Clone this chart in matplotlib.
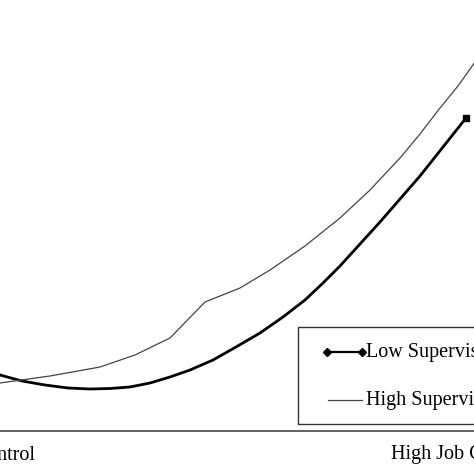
import matplotlib
matplotlib.use("Agg")
import matplotlib.pyplot as plt
from matplotlib.patches import Rectangle

plt.rcParams['font.family'] = ['Liberation Serif', 'DejaVu Serif']

# data read in picture coordinates (x right, y down)
low_x = [-20, 0, 22, 45, 68, 90, 110, 130, 150, 170, 190, 213, 236, 260, 283, 305, 323, 340, 360, 380, 400, 420, 443, 466]
low_y = [366, 375, 381, 385, 388, 389, 388.5, 387, 383, 377, 370, 360, 347, 333, 317, 300, 283, 266, 244, 222, 199, 176, 147, 118]
high_x = [-20, 0, 50, 100, 135, 170, 205, 240, 270, 305, 340, 370, 400, 420, 440, 458, 480]
high_y = [390, 383, 376, 367, 355, 338, 302, 288, 270, 246, 218, 190, 158, 134, 108, 86, 55]
labels = ["Low Job Control", "High Job Control"]
legend_labels = ["Low Supervisor Support", "High Supervisor Support"]

fig = plt.figure(figsize=(4.74, 4.74), dpi=100)
ax = fig.add_axes([0, 0, 1, 1])
ax.set_xlim(0, 474)
ax.set_ylim(474, 0)
ax.axis('off')

ax.plot(low_x, low_y, color='black', lw=2.0, solid_joinstyle='round')
ax.plot([low_x[-1]], [low_y[-1]], marker='s', color='black', ms=5)
ax.plot(high_x, high_y, color='#444444', lw=0.9)
ax.axhline(431, color='#555555', lw=1.3)

ax.text(35, 455, labels[0], ha='right', va='center', fontsize=14.5)
ax.text(391, 455, labels[1], ha='left', va='center', fontsize=14.5)

ax.add_patch(Rectangle((298, 327), 200, 97, fill=False, ec='#333333', lw=1.0))
ax.plot([327, 362], [352, 352], color='black', lw=1.6, marker='D', ms=4)
ax.text(366, 352, legend_labels[0], ha='left', va='center', fontsize=14.5)
ax.plot([328, 362], [400, 400], color='#444444', lw=0.9)
ax.text(366, 400, legend_labels[1], ha='left', va='center', fontsize=14.5)

fig.savefig("out.png", dpi=100)
